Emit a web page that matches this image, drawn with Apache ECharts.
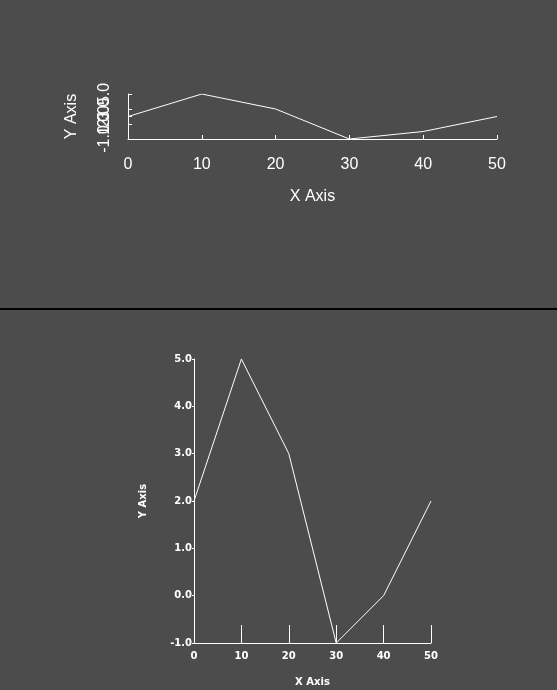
<!DOCTYPE html>
<html>
<head>
<meta charset="utf-8">
<script src="https://cdn.jsdelivr.net/npm/echarts@6/dist/echarts.min.js"></script>
<style>
  html, body { margin: 0; padding: 0; background: #4c4c4c; }
  #top { width: 557px; height: 308px; }
  #sep { width: 557px; height: 2px; background: #000; }
  #bottom { width: 557px; height: 380px; }
</style>
</head>
<body>
<div id="top"></div>
<div id="sep"></div>
<div id="bottom"></div>
<script>
// data
var xValues = [0, 10, 20, 30, 40, 50];
var yValues = [2, 5, 3, -1, 0, 2];
var xName = 'X Axis';
var yName = 'Y Axis';

var points = xValues.map(function(x, i) { return [x, yValues[i]]; });

function lineSeries() {
	return [{
		type: 'line',
		data: points,
		showSymbol: false,
		lineStyle: { color: '#fff', width: 1 },
		animation: false
	}];
}

// top chart: thin font, rotated y labels
var topChart = echarts.init(document.getElementById('top'));
var topFont = { color: '#fff', fontFamily: 'Liberation Sans', fontSize: 16 };
topChart.setOption({
	animation: false,
	grid: { left: 128, right: 60, top: 94, bottom: 169, outerBoundsMode: 'none' },
	xAxis: {
		type: 'value', min: 0, max: 50, interval: 10,
		name: xName, nameLocation: 'middle', nameGap: 50,
		nameTextStyle: topFont,
		axisLine: { onZero: false, lineStyle: { color: '#fff', width: 1 } },
		axisTick: { inside: true, length: 4, lineStyle: { color: '#fff' } },
		axisLabel: Object.assign({ margin: 18 }, topFont),
		splitLine: { show: false }
	},
	yAxis: {
		type: 'value', min: -1, max: 5, interval: 1,
		name: yName, nameLocation: 'middle', nameGap: 48,
		nameTextStyle: topFont,
		axisLine: { show: true, onZero: false, lineStyle: { color: '#fff', width: 1 } },
		axisTick: { show: true, inside: true, length: 4, lineStyle: { color: '#fff' } },
		axisLabel: Object.assign({
			rotate: 90, margin: 15, hideOverlap: false,
			showMinLabel: true, showMaxLabel: true,
			formatter: function(v) { return v.toFixed(1); }
		}, topFont),
		splitLine: { show: false }
	},
	series: lineSeries()
});

// bottom chart: bold small font
var bottomChart = echarts.init(document.getElementById('bottom'));
var boldFont = { color: '#fff', fontFamily: 'DejaVu Sans', fontWeight: 'bold', fontSize: 10 };
bottomChart.setOption({
	animation: false,
	grid: { left: 194, right: 126, top: 49, bottom: 47, outerBoundsMode: 'none' },
	xAxis: {
		type: 'value', min: 0, max: 50, interval: 10,
		name: xName, nameLocation: 'middle', nameGap: 34,
		nameTextStyle: boldFont,
		axisLine: { onZero: false, lineStyle: { color: '#fff', width: 1 } },
		axisTick: { inside: true, length: 18, lineStyle: { color: '#fff' } },
		axisLabel: Object.assign({ margin: 8 }, boldFont),
		splitLine: { show: false }
	},
	yAxis: {
		type: 'value', min: -1, max: 5, interval: 1,
		name: yName, nameLocation: 'middle', nameGap: 46,
		nameTextStyle: boldFont,
		axisLine: { show: true, onZero: false, lineStyle: { color: '#fff', width: 1 } },
		axisTick: { show: true, length: 2, lineStyle: { color: '#fff' } },
		axisLabel: Object.assign({
			margin: 2,
			formatter: function(v) { return v.toFixed(1); }
		}, boldFont),
		splitLine: { show: false }
	},
	series: lineSeries()
});
</script>
</body>
</html>
